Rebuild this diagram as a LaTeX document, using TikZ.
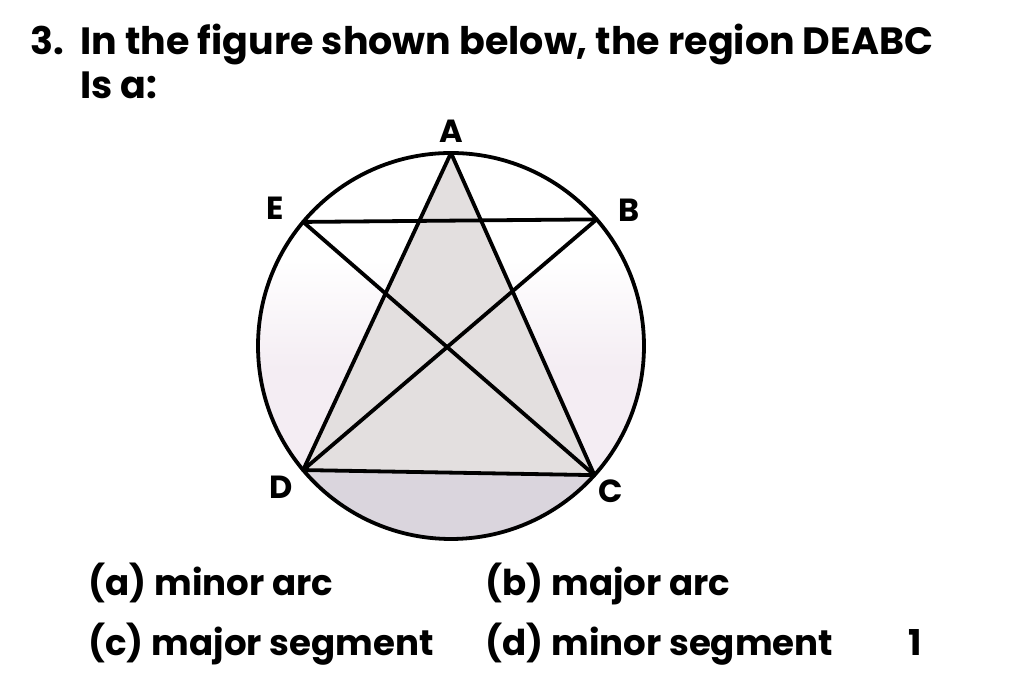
\documentclass[tikz,border=0pt]{standalone}
\usepackage{fontspec}
\setmainfont{Poppins}
\usepackage{xcolor}
\usetikzlibrary{positioning,calc}

\definecolor{trifill}{HTML}{E3DFDF}
\definecolor{segfill}{HTML}{DAD5DD}
\definecolor{sidefill}{HTML}{F4EDF3}

\begin{document}
\begin{tikzpicture}[x=0.5pt,y=0.5pt,
    chord/.style={line width=1.9pt, line cap=round, line join=round},
    ptlabel/.style={font=\bfseries\fontsize{16}{16}\selectfont, inner sep=0pt},
    qtext/.style={font=\bfseries\fontsize{19}{19}\selectfont, inner sep=0pt, anchor=base west},
    otext/.style={font=\bfseries\fontsize{17.8}{17.8}\selectfont, inner sep=0pt, anchor=base west}]
    \useasboundingbox (0,0) rectangle (1024,689);

    % circle and the five points on it
    \coordinate (O) at (451,343);
    \coordinate (A) at ($(O)+(90:193)$);
    \coordinate (E) at ($(O)+(140:193)$);
    \coordinate (B) at ($(O)+(41:193)$);
    \coordinate (D) at ($(O)+(220:193)$);
    \coordinate (C) at ($(O)+(-42:193)$);

    % shading
    \begin{scope}
        \clip (O) circle (193);
        \shade[top color=white, bottom color=sidefill] (250,430) rectangle (650,320);
        \fill[sidefill] (250,320) rectangle (650,140);
        \fill[segfill] (D) -- (C) -- (650,214) -- (650,140) -- (250,140) -- (250,219) -- cycle;
    \end{scope}
    \fill[trifill] (A) -- (D) -- (C) -- cycle;

    \draw[chord] (O) circle (193);
    \draw[chord] (E) -- (B);
    \draw[chord] (D) -- (C);
    \draw[chord] (A) -- (D);
    \draw[chord] (A) -- (C);
    \draw[chord] (E) -- (C);
    \draw[chord] (B) -- (D);

    \node[ptlabel] (lA) at ($(A)+(0,22)$) {A};
    \node[ptlabel] (lE) at ($(E)+(-28,14)$) {E};
    \node[ptlabel] (lB) at ($(B)+(32,9)$) {B};
    \node[ptlabel] (lD) at ($(D)+(-22,-17)$) {D};
    \node[ptlabel] (lC) at ($(C)+(16,-16)$) {C};

    % question
    \node[qtext] (q1) at (30,634) {3.};
    \node[qtext] (q2) at (80,634) {In the figure shown below, the region DEABC};
    \node[qtext] (q3) at (80,590) {Is a:};

    \node[otext] (oa) at (88,93) {(a)\hspace{4pt}minor arc};
    \node[otext] (ob) at (485,93) {(b)\hspace{4pt}major arc};
    \node[otext] (oc) at (88,33) {(c)\hspace{4pt}major segment};
    \node[otext] (od) at (485,33) {(d)\hspace{4pt}minor segment};
    \node[otext] (mk) at (908,33) {1};
\end{tikzpicture}
\end{document}
